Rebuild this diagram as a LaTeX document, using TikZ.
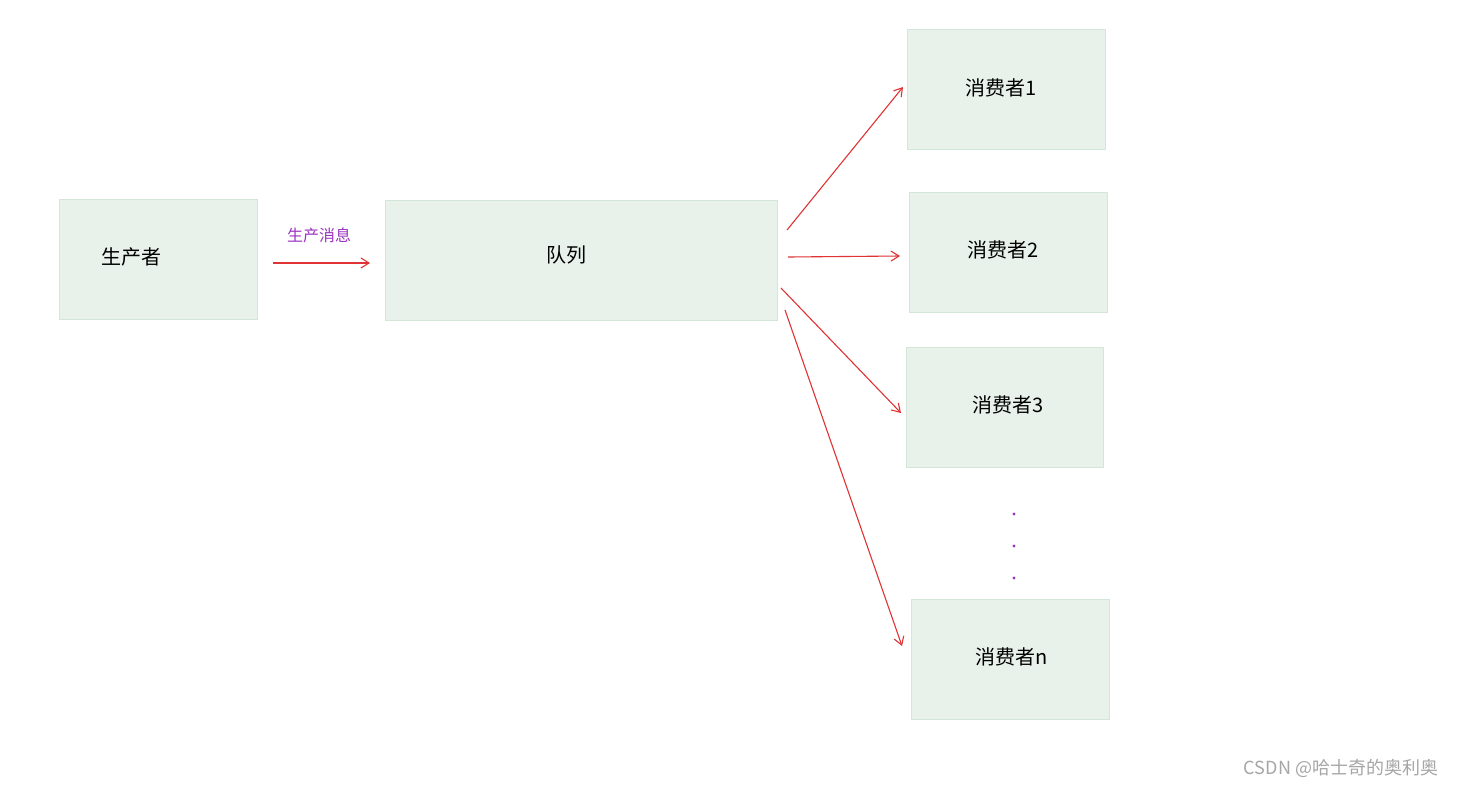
\documentclass[tikz,border=0pt]{standalone}
\usepackage{fontspec}
\setmainfont{Noto Sans CJK SC}
\usetikzlibrary{arrows.meta}
\definecolor{boxfill}{HTML}{E8F2EA}
\definecolor{boxline}{HTML}{D3E6D7}
\definecolor{arr}{HTML}{E03333}
\definecolor{purp}{HTML}{9B34C0}
\begin{document}
\begin{tikzpicture}[x=1pt,y=-1pt,
  box/.style={draw=boxline,fill=boxfill,line width=0.8pt},
  lbl/.style={font=\fontsize{20}{22}\selectfont},
  ar/.style={draw=arr,line width=1.1pt,-{Straight Barb[length=8pt,width=10pt]}}]
\useasboundingbox (0,0) rectangle (1462,788);
\fill[white] (0,0) rectangle (1462,788);
\draw[box] (59,199) rectangle (257,319);
\draw[box] (385,200) rectangle (777,320);
\draw[box] (907,29) rectangle (1105,149);
\draw[box] (909,192) rectangle (1107,312);
\draw[box] (906,347) rectangle (1103,467);
\draw[box] (911,599) rectangle (1109,719);
\node[lbl] (p) at (131,257) {生产者};
\node[lbl] (q) at (566,255) {队列};
\node[lbl] (c1) at (1001,88) {消费者1};
\node[lbl] (c2) at (1003,250) {消费者2};
\node[lbl] (c3) at (1008,405) {消费者3};
\node[lbl] (cn) at (1012,657) {消费者n};
\node[text=purp,font=\fontsize{16}{18}\selectfont] (m) at (319,235) {生产消息};
\coordinate (a0) at (273,263); \coordinate (b0) at (370,263);
\coordinate (a1) at (787,230); \coordinate (b1) at (903,87);
\coordinate (a2) at (788,257); \coordinate (b2) at (900,256);
\coordinate (a3) at (781,288); \coordinate (b3) at (901,413);
\coordinate (a4) at (785,310); \coordinate (b4) at (902,646);
\draw[ar] (a0) -- (b0);
\draw[ar] (a1) -- (b1);
\draw[ar] (a2) -- (b2);
\draw[ar] (a3) -- (b3);
\draw[ar] (a4) -- (b4);
\foreach \yy in {514,546,578} \fill[purp] (1014,\yy) circle (1.6);
\node[text=gray!70,font=\fontsize{18}{20}\selectfont] (w) at (1341,768) {CSDN @哈士奇的奥利奥};
\end{tikzpicture}
\end{document}
